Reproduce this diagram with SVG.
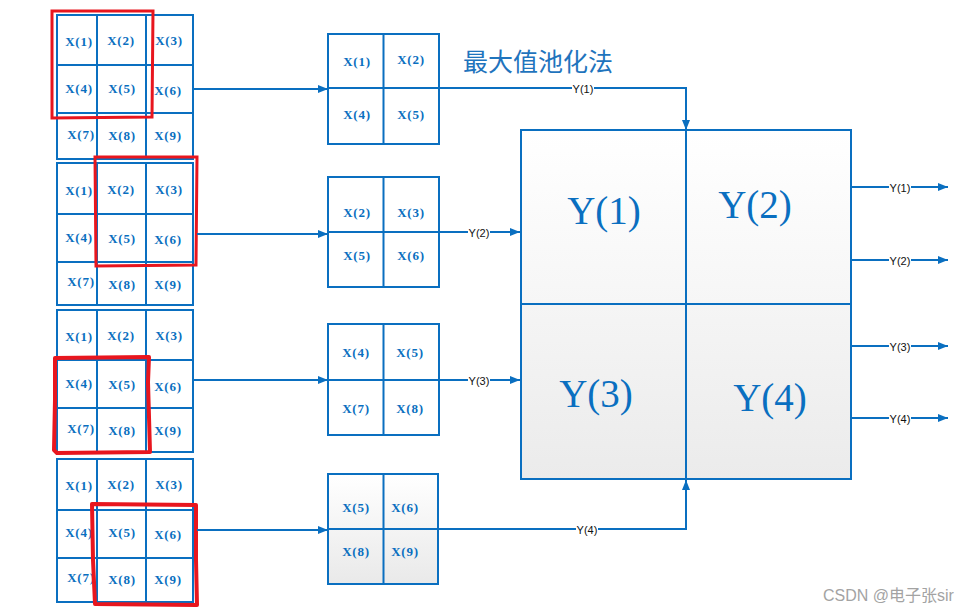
<svg xmlns="http://www.w3.org/2000/svg" width="976" height="616" viewBox="0 0 976 616">
<defs>
<style>
.g{fill:#fff;stroke:#0a6fc0;stroke-width:2}
.l{stroke:#0a6fc0;stroke-width:2;fill:none}
.x{font-family:"Liberation Serif",serif;font-size:13px;font-weight:bold;fill:#0a6fc0;text-anchor:middle;dominant-baseline:central;letter-spacing:0.8px}
.y{font-family:"Liberation Serif",serif;font-size:39px;fill:#0a6fc0;text-anchor:middle}
.c{stroke:#0a6fc0;stroke-width:2;fill:none}
.lb{font-family:"Liberation Sans",Arial,sans-serif;font-size:11px;fill:#111;text-anchor:middle;dominant-baseline:central}
.bg{fill:#fff}
.r{fill:none;stroke:#e8161e;stroke-width:3}
.r2{fill:none;stroke:#e8161e;stroke-width:4;stroke-linejoin:round}
</style>
<marker id="ah" markerUnits="userSpaceOnUse" markerWidth="10" markerHeight="8" viewBox="0 0 10 8" refX="10" refY="4" orient="auto">
<path d="M0,0 L10,4 L0,8 z" fill="#0a6fc0"/>
</marker>
<linearGradient id="gd" x1="0" y1="0" x2="0" y2="1">
<stop offset="0" stop-color="#ffffff"/><stop offset="1" stop-color="#e9e9e9"/>
</linearGradient>
<linearGradient id="gt" x1="0" y1="0" x2="0" y2="1">
<stop offset="0" stop-color="#ffffff"/><stop offset="1" stop-color="#f6f6f6"/>
</linearGradient>
<linearGradient id="gb" x1="0" y1="0" x2="0" y2="1">
<stop offset="0" stop-color="#f5f5f5"/><stop offset="1" stop-color="#ebebeb"/>
</linearGradient>
</defs>
<rect width="976" height="616" fill="#fff"/>

<!-- Left input grids -->
<g id="in1">
<rect class="g" x="57" y="15" width="136" height="144"/>
<path class="l" d="M97,15V159M146,15V159M57,65H193M57,113H193"/>
<text class="x" x="79" y="41">X(1)</text><text class="x" x="121" y="40">X(2)</text><text class="x" x="169" y="40">X(3)</text>
<text class="x" x="79" y="88">X(4)</text><text class="x" x="122" y="88">X(5)</text><text class="x" x="168" y="90">X(6)</text>
<text class="x" x="81" y="134">X(7)</text><text class="x" x="122" y="135">X(8)</text><text class="x" x="168" y="135">X(9)</text>
<path class="r" d="M52,11 L153,11 L152,117 L52,118 Z"/>
</g>
<g id="in2">
<rect class="g" x="57" y="163" width="136" height="142"/>
<path class="l" d="M97,163V305M146,163V305M57,214H193M57,262H193"/>
<text class="x" x="79" y="190">X(1)</text><text class="x" x="121" y="189">X(2)</text><text class="x" x="169" y="189">X(3)</text>
<text class="x" x="79" y="237">X(4)</text><text class="x" x="122" y="238">X(5)</text><text class="x" x="168" y="239">X(6)</text>
<text class="x" x="81" y="281">X(7)</text><text class="x" x="122" y="284">X(8)</text><text class="x" x="168" y="284">X(9)</text>
<path class="r" d="M95,157 L197,157 L196,265 L96,266 Z"/>
</g>
<g id="in3">
<rect class="g" x="57" y="310" width="136" height="142"/>
<path class="l" d="M97,310V452M146,310V452M57,360H193M57,408H193"/>
<text class="x" x="79" y="336">X(1)</text><text class="x" x="121" y="335">X(2)</text><text class="x" x="169" y="335">X(3)</text>
<text class="x" x="79" y="383">X(4)</text><text class="x" x="122" y="384">X(5)</text><text class="x" x="168" y="386">X(6)</text>
<text class="x" x="81" y="428">X(7)</text><text class="x" x="122" y="430">X(8)</text><text class="x" x="168" y="430">X(9)</text>
<path class="r2" d="M55,358 L149,357 L148,382 L150,452 L57,453 L54,450 L55,400 Z"/>
</g>
<g id="in4">
<rect class="g" x="57" y="459" width="136" height="143"/>
<path class="l" d="M97,459V602M146,459V602M57,510H193M57,558H193"/>
<text class="x" x="79" y="485">X(1)</text><text class="x" x="121" y="484">X(2)</text><text class="x" x="169" y="484">X(3)</text>
<text class="x" x="79" y="532">X(4)</text><text class="x" x="122" y="532">X(5)</text><text class="x" x="168" y="534">X(6)</text>
<text class="x" x="81" y="577">X(7)</text><text class="x" x="122" y="579">X(8)</text><text class="x" x="168" y="579">X(9)</text>
<path class="r2" d="M92,504 L196,505 L196,560 L197,605 L95,604 L93,560 Z"/>
</g>

<!-- Middle pooled windows -->
<g id="win1">
<rect class="g" x="328" y="34" width="111" height="110"/>
<path class="l" d="M383.5,34V144M328,88H439"/>
<text class="x" x="357" y="61">X(1)</text><text class="x" x="411" y="59">X(2)</text>
<text class="x" x="357" y="114">X(4)</text><text class="x" x="411" y="114">X(5)</text>
</g>
<g id="win2">
<rect class="g" x="328" y="177" width="111" height="110"/>
<path class="l" d="M383.5,177V287M328,232H439"/>
<text class="x" x="357" y="212">X(2)</text><text class="x" x="411" y="212">X(3)</text>
<text class="x" x="357" y="255">X(5)</text><text class="x" x="411" y="255">X(6)</text>
</g>
<g id="win3">
<rect class="g" x="328" y="324" width="111" height="111"/>
<path class="l" d="M383.5,324V435M328,380H439"/>
<text class="x" x="356" y="352">X(4)</text><text class="x" x="410" y="352">X(5)</text>
<text class="x" x="356" y="408">X(7)</text><text class="x" x="410" y="408">X(8)</text>
</g>
<g id="win4">
<rect x="328" y="474" width="110" height="110" fill="url(#gd)" stroke="#0a6fc0" stroke-width="2"/>
<path class="l" d="M383.5,474V584M328,529H438"/>
<text class="x" x="356" y="507">X(5)</text><text class="x" x="405" y="507">X(6)</text>
<text class="x" x="356" y="551">X(8)</text><text class="x" x="405" y="551">X(9)</text>
</g>

<!-- Title -->
<text id="title" x="463" y="71" font-family="'Noto Sans CJK SC','Noto Sans',sans-serif" font-size="25" fill="#1f74bd">最大值池化法</text>

<!-- Output feature map -->
<g id="output">
<rect x="521" y="130" width="330" height="174" fill="url(#gt)"/>
<rect x="521" y="304" width="330" height="175" fill="url(#gb)"/>
<rect x="521" y="130" width="330" height="349" fill="none" stroke="#0a6fc0" stroke-width="2"/>
<path class="l" d="M686,130V479M521,304H851"/>
<text class="y" x="604" y="224">Y(1)</text>
<text class="y" x="755" y="218">Y(2)</text>
<text class="y" x="596" y="407">Y(3)</text>
<text class="y" x="770" y="411">Y(4)</text>
</g>

<!-- Connectors -->
<g id="connectors">
<path class="c" d="M193,89H328" marker-end="url(#ah)"/>
<path class="c" d="M197,234H328" marker-end="url(#ah)"/>
<path class="c" d="M193,380H328" marker-end="url(#ah)"/>
<path class="c" d="M197,530H328" marker-end="url(#ah)"/>
<path class="c" d="M439,88H686V130" marker-end="url(#ah)"/>
<path class="c" d="M439,232H520" marker-end="url(#ah)"/>
<path class="c" d="M439,380H520" marker-end="url(#ah)"/>
<path class="c" d="M438,529H686V480" marker-end="url(#ah)"/>
<path class="c" d="M851,187H948" marker-end="url(#ah)"/>
<path class="c" d="M851,260H948" marker-end="url(#ah)"/>
<path class="c" d="M851,346H948" marker-end="url(#ah)"/>
<path class="c" d="M851,418H948" marker-end="url(#ah)"/>
<rect class="bg" x="572" y="82" width="22" height="13"/><text class="lb" x="583" y="89">Y(1)</text>
<rect class="bg" x="468" y="226" width="22" height="13"/><text class="lb" x="479" y="233">Y(2)</text>
<rect class="bg" x="468" y="374" width="22" height="13"/><text class="lb" x="479" y="381">Y(3)</text>
<rect class="bg" x="576" y="523" width="22" height="13"/><text class="lb" x="587" y="530">Y(4)</text>
<rect class="bg" x="889" y="181" width="22" height="13"/><text class="lb" x="900" y="188">Y(1)</text>
<rect class="bg" x="889" y="254" width="22" height="13"/><text class="lb" x="900" y="261">Y(2)</text>
<rect class="bg" x="889" y="340" width="22" height="13"/><text class="lb" x="900" y="347">Y(3)</text>
<rect class="bg" x="889" y="412" width="22" height="13"/><text class="lb" x="900" y="419">Y(4)</text>
</g>

<text x="823" y="601" font-family="'Liberation Sans','Noto Sans CJK SC',sans-serif" font-size="16" fill="#a3a3a3">CSDN @电子张sir</text>
</svg>
